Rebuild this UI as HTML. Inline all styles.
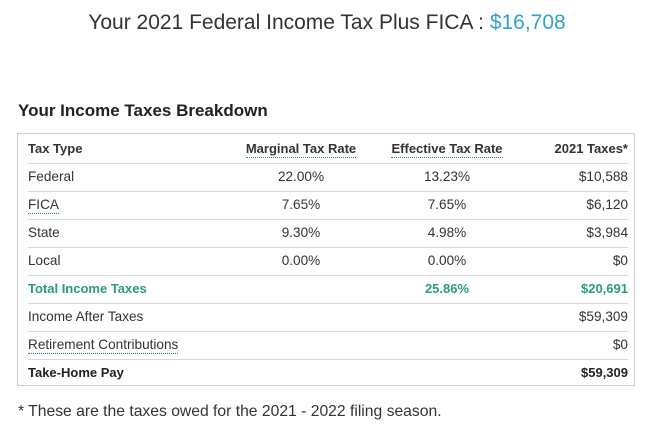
<!DOCTYPE html>
<html><head><style>
body{margin:0;width:654px;height:439px;background:#fff;font-family:"Liberation Sans",sans-serif;color:#333;position:relative;overflow:hidden}
.t{position:absolute;white-space:nowrap}
h1{position:absolute;top:11px;left:0;width:654px;text-align:center;margin:0;font-weight:normal;font-size:21px;color:#333}
h1 span{color:#2ea2cc}
.box{position:absolute;left:17px;top:133px;width:618px;height:253px;border:1px solid #ccc;box-sizing:border-box}
.row{position:absolute;left:28px;width:600px;height:28px;font-size:13.6px;line-height:28px}
.line{position:absolute;left:28px;width:600px;border-top:1px solid #d8d8d8}
.c1{position:absolute;left:0}
.c2{position:absolute;left:217px;width:112px;text-align:center}
.c3{position:absolute;left:362px;width:114px;text-align:center}
.c4{position:absolute;right:0;text-align:right}
.dot{border-bottom:1px dotted #2a8f6b;line-height:16px;display:inline-block}
.g{color:#2a9d72;font-weight:bold}
.b{font-weight:bold}
</style></head><body>
<h1>Your 2021 Federal Income Tax Plus FICA : <span>$16,708</span></h1>
<div class="t" style="left:18px;top:101px;font-size:17px;font-weight:bold;color:#222">Your Income Taxes Breakdown</div>
<div class="box"></div>
<div class="row" style="top:135px;font-weight:bold;color:#333;font-size:13px"><span class="c1">Tax Type</span><span class="c2"><span class="dot">Marginal Tax Rate</span></span><span class="c3"><span class="dot">Effective Tax Rate</span></span><span class="c4">2021 Taxes*</span></div>
<div class="line" style="top:163px"></div>
<div class="row" style="top:163px"><span class="c1">Federal</span><span class="c2">22.00%</span><span class="c3">13.23%</span><span class="c4">$10,588</span></div>
<div class="line" style="top:191px"></div>
<div class="row" style="top:191px"><span class="c1"><span class="dot">FICA</span></span><span class="c2">7.65%</span><span class="c3">7.65%</span><span class="c4">$6,120</span></div>
<div class="line" style="top:219px"></div>
<div class="row" style="top:219px"><span class="c1">State</span><span class="c2">9.30%</span><span class="c3">4.98%</span><span class="c4">$3,984</span></div>
<div class="line" style="top:247px"></div>
<div class="row" style="top:247px"><span class="c1">Local</span><span class="c2">0.00%</span><span class="c3">0.00%</span><span class="c4">$0</span></div>
<div class="line" style="top:275px"></div>
<div class="row g" style="top:275px;font-size:13px"><span class="c1">Total Income Taxes</span><span class="c3">25.86%</span><span class="c4">$20,691</span></div>
<div class="line" style="top:303px"></div>
<div class="row" style="top:303px"><span class="c1">Income After Taxes</span><span class="c4">$59,309</span></div>
<div class="line" style="top:331px"></div>
<div class="row" style="top:331px"><span class="c1"><span class="dot">Retirement Contributions</span></span><span class="c4">$0</span></div>
<div class="line" style="top:359px"></div>
<div class="row b" style="top:359px;color:#222;font-size:13px"><span class="c1">Take-Home Pay</span><span class="c4">$59,309</span></div>
<div class="t" style="left:18px;top:403px;font-size:15.7px;color:#333">* These are the taxes owed for the 2021 - 2022 filing season.</div>
</body></html>
